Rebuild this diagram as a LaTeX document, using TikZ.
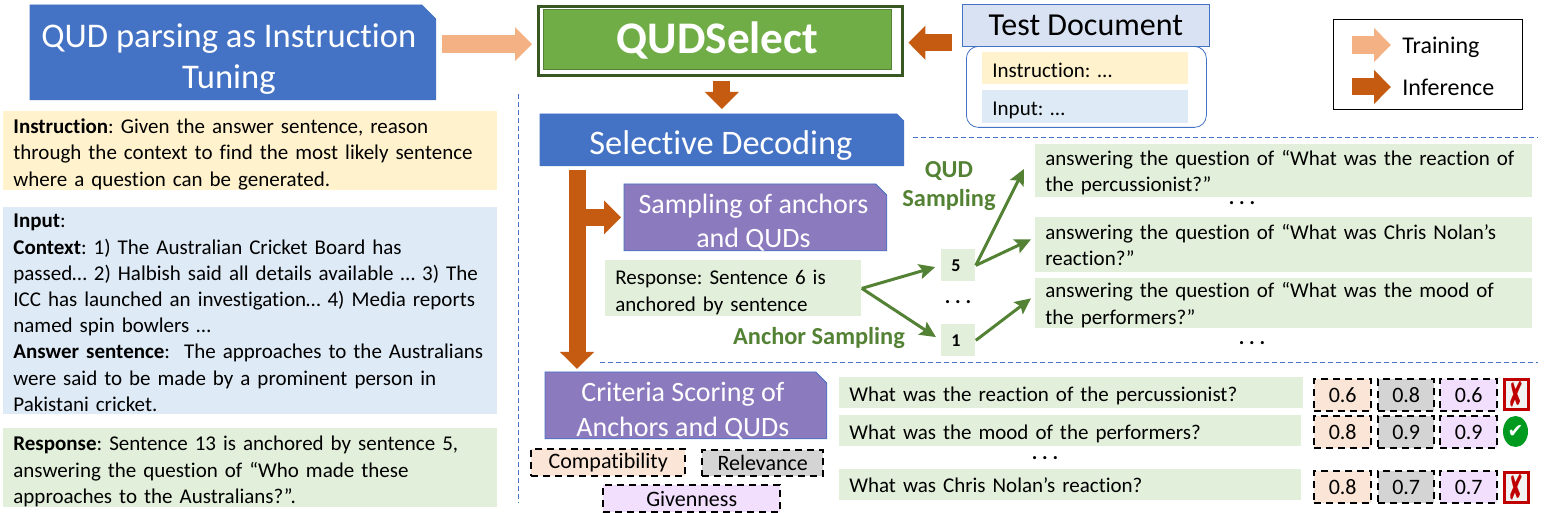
\documentclass[tikz,border=0pt]{standalone}
\usepackage{fontspec}
\setmainfont{Carlito}[Ligatures=NoCommon]
\newfontfamily\symfont{DejaVu Sans}
\usepackage{tikz}
\usetikzlibrary{arrows.meta,positioning,shapes.geometric,calc}
\frenchspacing
\definecolor{bluefill}{HTML}{4472C4}
\definecolor{purplefill}{HTML}{8C7ABF}
\definecolor{topgreen}{HTML}{70AD47}
\definecolor{darkgreen}{HTML}{385723}
\definecolor{arrowgreen}{HTML}{548235}
\definecolor{lightorange}{HTML}{F4B183}
\definecolor{darkorange}{HTML}{C55A11}
\definecolor{paleyellow}{HTML}{FFF2CC}
\definecolor{paleblue}{HTML}{DEEAF6}
\definecolor{palegreen}{HTML}{E2EFDA}
\definecolor{palepeach}{HTML}{FBE5D6}
\definecolor{palegrey}{HTML}{D4D4D4}
\definecolor{palepurple}{HTML}{F1DFFD}
\definecolor{headblue}{HTML}{D9E2F3}
\definecolor{crossred}{HTML}{C00000}
\definecolor{tickgreen}{HTML}{009A1E}
\tikzset{boxsize/.style 2 args={anchor=north west,inner ysep=0pt,minimum width=#1*0.5pt,minimum height=#2*0.5pt}}
\tikzset{leftsize/.style 2 args={boxsize={#1}{#2},align=left,inner xsep=5pt,text width=(#1-20)*0.5pt}}
\tikzset{textdown/.style={execute at begin node={\rule{0pt}{\dimexpr 7.8pt+#1\relax}}}}
\newcommand{\cutcorner}[3]{\path[#1] (#2.south west) -- (#2.north west) -- ($(#2.north east)+(-#3,0)$) -- ($(#2.north east)+(0,#3)$) -- (#2.south east) -- cycle;}
\tikzstyle{bluetitle}=[fill=bluefill,draw=bluefill]
\tikzstyle{purpletitle}=[fill=purplefill,draw=bluefill]
\tikzstyle{titletext}=[text=white,align=center,inner sep=0pt]
\tikzstyle{body}=[font=\fontsize{10.5}{13.1}\selectfont]
\tikzstyle{yellowbox}=[body,fill=paleyellow]
\tikzstyle{bluebox}=[body,fill=paleblue]
\tikzstyle{greenbox}=[body,fill=palegreen]
\tikzstyle{dashbox}=[font=\fontsize{11}{13}\selectfont,draw=black,line width=1.2pt,dash pattern=on 3.5pt off 2.5pt]
\tikzstyle{crossbox}=[draw=crossred,line width=1.5pt,fill=black!5,text=crossred,inner xsep=0pt,font=\symfont\fontsize{18}{18}\selectfont]
\tikzstyle{trainarrow}=[draw=lightorange,line width=9pt,-{Triangle[length=8.5pt,width=16.5pt]}]
\tikzstyle{inferarrow}=[draw=darkorange,line width=8.5pt,-{Triangle[length=8.5pt,width=16.5pt]}]
\tikzstyle{every edge}=[draw=arrowgreen,line width=1.5pt,-{Stealth[length=8pt,width=7.5pt,inset=1.5pt]}]
\tikzstyle{divider}=[draw=bluefill,line width=0.5pt,dash pattern=on 2.5pt off 1.5pt]
\tikzstyle{greenlabel}=[font=\fontsize{12.2}{14.5}\selectfont\bfseries,text=arrowgreen,align=center]
\tikzstyle{dots}=[font=\fontsize{10.5}{13}\selectfont\bfseries,inner sep=0pt]
\begin{document}
\begin{tikzpicture}[x=0.5pt,y=-0.5pt]
  \useasboundingbox (0,0) rectangle (1544,513);
  % left column
  \node[boxsize={405}{94}] (quds) at (30,5) {};
  \cutcorner{bluetitle}{quds}{14}
  \node[titletext,font=\fontsize{17.3}{20.5}\selectfont] (qudstext) at ($(quds.center)+(-4,7)$) {QUD parsing as Instruction\\Tuning};
  \node[yellowbox,leftsize={494}{79},textdown=3pt] (instr) at (3,111) {\textbf{Instruction}: Given the answer sentence, reason\\through the context to find the most likely sentence\\where a question can be generated.};
  \node[bluebox,leftsize={494}{207},textdown=1pt] (input) at (3,207) {\textbf{Input}:\\\textbf{Context}: 1) The Australian Cricket Board has\\passed… 2) Halbish said all details available … 3) The\\ICC has launched an investigation… 4) Media reports\\named spin bowlers …\\\textbf{Answer sentence}:~ The approaches to the Australians\\were said to be made by a prominent person in\\Pakistani cricket.};
  \node[greenbox,leftsize={494}{79},textdown=3pt] (resp) at (3,428) {\textbf{Response}: Sentence 13 is anchored by sentence 5,\\answering the question of “Who made these\\approaches to the Australians?”.};

  % top row
  \node[boxsize={364}{69},draw=darkgreen,line width=1.7pt] (selframe) at (537,5) {};
  \node[boxsize={348}{60},fill=topgreen,draw=arrowgreen,line width=0.5pt] (select) at (543,9) {};
  \node[titletext,font=\fontsize{22.6}{26}\selectfont\bfseries] (selecttext) at ($(select.center)+(0,1)$) {QUDSelect};
  \node[boxsize={240}{81},draw=bluefill,rounded corners=6pt,fill=white] (testbox) at (966,46) {};
  \node[boxsize={247}{42},draw=bluefill,fill=headblue,font=\fontsize{16}{18}\selectfont] (testdoc) at (962,4) {Test Document};
  \node[yellowbox,leftsize={206}{32},textdown=1pt] (testinstr) at (982,52) {Instruction: …};
  \node[bluebox,leftsize={206}{33},textdown=2pt] (testinput) at (982,90) {Input: …};

  % legend
  \node[boxsize={189}{90},draw=black,line width=0.7pt] (legend) at (1333,19) {};
  \node[inner xsep=0pt,font=\fontsize{12}{14}\selectfont,anchor=west] (trainlabel) at (1402,47) {Training};
  \node[inner xsep=0pt,font=\fontsize{12}{14}\selectfont,anchor=west] (inferlabel) at (1402,87) {Inference};
  \coordinate (trainstart) at (1352,45);
  \coordinate (inferstart) at (1352,87);
  \draw[trainarrow,shorten >=5.5pt] (trainstart) -- (trainstart -| trainlabel.west);
  \draw[inferarrow,shorten >=5.5pt] (inferstart) -- (inferlabel.west);

  % selective decoding
  \node[boxsize={363}{51}] (seldec) at (540,114) {};
  \cutcorner{bluetitle}{seldec}{7}
  \node[titletext,font=\fontsize{17.2}{19}\selectfont] (seldectext) at ($(seldec.center)+(-1,6)$) {Selective Decoding};
  \node[boxsize={262}{66}] (sampling) at (624,184) {};
  \cutcorner{purpletitle}{sampling}{11}
  \node[titletext,font=\fontsize{14}{17}\selectfont] (samplingtext) at ($(sampling.center)+(-2,5)$) {Sampling of anchors\\and QUDs};
  \node[greenbox,leftsize={256}{56},textdown=3.5pt] (answer) at (605,260) {Response: Sentence 6 is\\anchored by sentence};
  \node[greenbox,leftsize={34}{32},font=\fontsize{9}{10}\selectfont\bfseries] (five) at (941,249) {5};
  \node[greenbox,leftsize={34}{32},font=\fontsize{9}{10}\selectfont\bfseries] (one) at (941,324) {1};
  \node[dots] (middots) at (958,302) {. . .};
  \node[greenlabel] (qudlabel) at (949,186) {QUD\\Sampling};
  \node[greenlabel] (anchorlabel) at (819,338) {Anchor Sampling};
  \node[greenbox,leftsize={497}{53},textdown=1.5pt] (qa) at (1035,144) {answering the question of “What was the reaction of\\the percussionist?”};
  \node[greenbox,leftsize={497}{55}] (qb) at (1035,217) {answering the question of “What was Chris Nolan’s\\reaction?”};
  \node[greenbox,leftsize={497}{50},textdown=1.5pt] (qc) at (1035,278) {answering the question of “What was the mood of\\the performers?”};
  \node[dots] (adots) at (1242,203) {. . .};
  \node[dots] (bdots) at (1252,343) {. . .};

  % criteria scoring
  \node[boxsize={281}{66}] (criteria) at (545,372) {};
  \cutcorner{purpletitle}{criteria}{11}
  \node[titletext,font=\fontsize{14}{17.5}\selectfont] (criteriatext) at ($(criteria.center)+(-3,6)$) {Criteria Scoring of\\Anchors and QUDs};
  \node[dashbox,boxsize={154}{27},fill=palepeach] (compat) at (530,448) {Compatibility};
  \node[dashbox,boxsize={121}{26},fill=palegrey] (relev) at (701,449) {Relevance};
  \node[dashbox,boxsize={177}{27},fill=palepurple] (given) at (602,484) {Givenness};
  \node[greenbox,leftsize={464}{31},textdown=2pt] (qone) at (839,377) {What was the reaction of the percussionist?};
  \node[greenbox,leftsize={462}{31},textdown=2pt] (qtwo) at (839,415) {What was the mood of the performers?};
  \node[greenbox,leftsize={462}{31}] (qthree) at (839,469) {What was Chris Nolan’s reaction?};
  \node[dots] (qdots) at (1045,458) {. . .};

  \node[dashbox,boxsize={57}{32},fill=palepeach] (sa) at (1313,378) {0.6};
  \node[dashbox,boxsize={56}{32},fill=palegrey,right=2.3pt of sa] (sb) {0.8};
  \node[dashbox,boxsize={57}{32},fill=palepurple,right=1.8pt of sb] (sc) {0.6};
  \node[dashbox,boxsize={57}{32},fill=palepeach] (ta) at (1313,415) {0.8};
  \node[dashbox,boxsize={56}{32},fill=palegrey,right=2.3pt of ta] (tb) {0.9};
  \node[dashbox,boxsize={57}{32},fill=palepurple,right=1.8pt of tb] (tc) {0.9};
  \node[dashbox,boxsize={57}{32},fill=palepeach] (ua) at (1313,470) {0.8};
  \node[dashbox,boxsize={56}{32},fill=palegrey,right=2.3pt of ua] (ub) {0.7};
  \node[dashbox,boxsize={57}{32},fill=palepurple,right=1.8pt of ub] (uc) {0.7};

  \node[crossbox,boxsize={24}{30}] (xa) at (1503,378) {\scalebox{0.5}[1]{✘}};
  \node[ellipse,fill=tickgreen,text=white,minimum width=12.5pt,minimum height=15.5pt,inner sep=0pt,font=\symfont\fontsize{9.5}{10}\selectfont] (tick) at (1515.5,431.5) {✔};
  \node[crossbox,boxsize={24}{30}] (xb) at (1503,471) {\scalebox{0.5}[1]{✘}};

  % dividers
  \coordinate (vtop) at (518,94);
  \coordinate (vbot) at (518,503);
  \coordinate (hastart) at (913,138);
  \coordinate (haend) at (1538,138);
  \coordinate (hbstart) at (600,362.5);
  \coordinate (hbend) at (1538,362.5);
  \draw[divider] (vtop) -- (vbot);
  \draw[divider] (hastart) -- (haend);
  \draw[divider] (hbstart) -- (hbend);

  % block arrows
  \coordinate (trunk) at (577,165);
  \draw[trainarrow,shorten <=3pt,shorten >=2.5pt] ($(quds.east |- selframe.west)+(0,3)$) -- ($(selframe.west)+(0,3)$);
  \draw[inferarrow,shorten <=5pt,shorten >=2pt] ($(selframe.east -| testdoc.west)+(0,1.5)$) -- ($(selframe.east)+(0,1.5)$);
  \draw[inferarrow,shorten <=2pt,shorten >=2.5pt] (seldec.north |- selframe.south) -- (seldec.north);
  \draw[inferarrow,shorten <=2.5pt,shorten >=1.5pt] (trunk) -- (trunk |- criteria.north);
  \draw[inferarrow,shorten >=1.5pt] (trunk |- sampling.west) -- (sampling.west);

  % sampling arrows
  \path (answer.east) edge[shorten >=3pt] (five.west)
	(answer.east) edge[shorten >=3pt] (one.west)
	(five.east) edge ($(qa.west)+(-11,-2)$)
	(five.east) edge ($(qb.west)+(-4,-5.5)$)
	(one.east) edge ($(qc.west)+(-4,-5)$);
\end{tikzpicture}
\end{document}
